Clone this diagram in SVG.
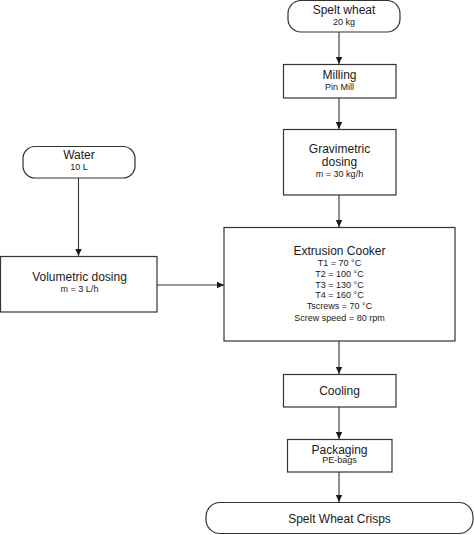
<svg xmlns="http://www.w3.org/2000/svg" width="474" height="535" viewBox="0 0 474 535">
  <defs>
    <marker id="arr" markerWidth="8" markerHeight="8" refX="7" refY="4" orient="auto" markerUnits="userSpaceOnUse">
      <path d="M0,0.8 L7,4 L0,7.2 Z" fill="#1a1a1a"/>
    </marker>
    <style>
      .box { fill: #ffffff; stroke: #333333; stroke-width: 1.2; }
      .edge { fill: none; stroke: #333333; stroke-width: 1.1; marker-end: url(#arr); }
      text { font-family: "Liberation Sans", Arial, sans-serif; fill: #1a1a1a; text-anchor: middle; }
      .t { font-size: 12px; }
      .s { font-size: 9px; }
    </style>
  </defs>
  <rect width="474" height="535" fill="#ffffff"/>

  <g id="connectors">
    <line class="edge" x1="339" y1="32" x2="339" y2="64"/>
    <line class="edge" x1="339" y1="98" x2="339" y2="129"/>
    <line class="edge" x1="339" y1="195" x2="339" y2="227"/>
    <line class="edge" x1="339" y1="341" x2="339" y2="374"/>
    <line class="edge" x1="339" y1="407" x2="339" y2="439"/>
    <line class="edge" x1="339" y1="472" x2="339" y2="502"/>
    <line class="edge" x1="78.5" y1="178" x2="78.5" y2="256"/>
    <line class="edge" x1="157" y1="285" x2="224" y2="285"/>
  </g>

  <g id="spelt-wheat">
    <rect class="box" x="288" y="0.5" width="112" height="31.5" rx="13" ry="13"/>
    <text class="t" x="344" y="13.5">Spelt wheat</text>
    <text class="s" x="344" y="24.5">20 kg</text>
  </g>

  <g id="milling">
    <rect class="box" x="283.5" y="64.5" width="112.5" height="33.5"/>
    <text class="t" x="339.5" y="79">Milling</text>
    <text class="s" x="339.5" y="89.5">Pin Mill</text>
  </g>

  <g id="gravimetric">
    <rect class="box" x="283.5" y="129.5" width="112.5" height="65.5"/>
    <text class="t" x="339.5" y="152.5">Gravimetric</text>
    <text class="t" x="339.5" y="166">dosing</text>
    <text class="s" x="339.5" y="177">m = 30 kg/h</text>
  </g>

  <g id="water">
    <rect class="box" x="23" y="146.5" width="112" height="31.5" rx="12" ry="12"/>
    <text class="t" x="79" y="159">Water</text>
    <text class="s" x="79" y="169.5">10 L</text>
  </g>

  <g id="volumetric">
    <rect class="box" x="0.5" y="256.5" width="156.5" height="55.5"/>
    <text class="t" x="79.5" y="280.5">Volumetric dosing</text>
    <text class="s" x="79.5" y="291.5">m = 3 L/h</text>
  </g>

  <g id="extrusion">
    <rect class="box" x="224" y="227.5" width="231" height="113.5"/>
    <text class="t" x="339.5" y="254.5">Extrusion Cooker</text>
    <text class="s" x="339.5" y="265.5">T1 = 70 °C</text>
    <text class="s" x="339.5" y="276.5">T2 = 100 °C</text>
    <text class="s" x="339.5" y="287.5">T3 = 130 °C</text>
    <text class="s" x="339.5" y="298">T4 = 160 °C</text>
    <text class="s" x="339.5" y="309">Tscrews = 70 °C</text>
    <text class="s" x="339.5" y="320.5">Screw speed = 80 rpm</text>
  </g>

  <g id="cooling">
    <rect class="box" x="283.5" y="374.5" width="112.5" height="32.5"/>
    <text class="t" x="339.5" y="395">Cooling</text>
  </g>

  <g id="packaging">
    <rect class="box" x="287.5" y="439.5" width="104.5" height="32.5"/>
    <text class="t" x="339.5" y="453.5">Packaging</text>
    <text class="s" x="339.5" y="463">PE-bags</text>
  </g>

  <g id="crisps">
    <rect class="box" x="206" y="502.5" width="267" height="31" rx="14" ry="14"/>
    <text class="t" x="339.5" y="522.5">Spelt Wheat Crisps</text>
  </g>
</svg>
